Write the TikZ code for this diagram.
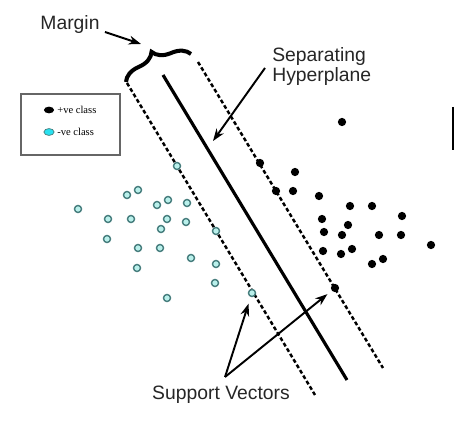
\documentclass[tikz,border=0pt]{standalone}
\usepackage{fontspec}
\setmainfont{Liberation Sans}
\newfontfamily\legendfont{Liberation Serif}
\usetikzlibrary{decorations.pathreplacing,arrows.meta,shapes.geometric}
\definecolor{negfill}{RGB}{185,240,235}
\definecolor{negdraw}{RGB}{70,125,125}
\definecolor{legcyan}{RGB}{40,225,240}
\tikzset{
  posdot/.style={circle,fill=black,inner sep=0pt,minimum size=4.7pt},
  negdot/.style={circle,fill=negfill,draw=negdraw,line width=0.8pt,inner sep=0pt,minimum size=4pt},
  margline/.style={line width=1.4pt,dash pattern=on 2.2pt off 1.4pt},
  hyper/.style={line width=1.8pt},
  lab/.style={font=\fontsize{11}{11.5}\selectfont,text=black!85,inner sep=0pt},
  pointer/.style={line width=1.1pt,-{Stealth[length=7pt,width=5pt]}},
  legtext/.style={font=\legendfont\fontsize{6}{7}\selectfont,anchor=west,inner sep=0pt}
}
\begin{document}
\begin{tikzpicture}[x=0.02cm,y=-0.02cm]
\useasboundingbox (0,0) rectangle (474,438);
% lines
\coordinate (l1a) at (127,83); \coordinate (l1b) at (315,395);
\coordinate (l2a) at (163,75); \coordinate (l2b) at (347,380);
\coordinate (l3a) at (198,62); \coordinate (l3b) at (383,368);
\draw[margline] (l1a) -- (l1b);
\draw[hyper] (l2a) -- (l2b);
\draw[margline] (l3a) -- (l3b);
% brace
\coordinate (ba) at (126,82); \coordinate (bb) at (191,54);
\draw[line width=2.3pt,decorate,decoration={brace,amplitude=10pt}] (ba) -- (bb);
% labels
\node[lab] (margin) at (70,25) {Margin};
\coordinate (mstart) at (105,32);
\coordinate (marginEnd) at (141,44);
\draw[pointer] (mstart) -- (marginEnd);
\node[lab,align=left,anchor=north west] (sep) at (272,47) {Separating\\Hyperplane};
\coordinate (sepStart) at (265,68);
\coordinate (sepEnd) at (213,141);
\draw[pointer] (sepStart) -- (sepEnd);
\node[lab] (sv) at (221,395) {Support Vectors};
\coordinate (svStart) at (225,377);
% vertical mark
\coordinate (va) at (453,107); \coordinate (vb) at (453,150);
\draw[line width=1.2pt] (va) -- (vb);
% legend
\draw[black!60,line width=0.6pt] (21,94) rectangle (120,155);
\node[ellipse,fill=black,inner sep=0pt,minimum width=5.8pt,minimum height=3.8pt] (legpos) at (49,110) {};
\node[ellipse,fill=legcyan,draw=negdraw,line width=0.4pt,inner sep=0pt,minimum width=5.8pt,minimum height=3.9pt] (legneg) at (49,132) {};
\node[legtext] (legposT) at (57,110) {+ve class};
\node[legtext] (legnegT) at (57,132) {-ve class};
% negative points
\foreach \x/\y [count=\i] in {177/166,138/190,127/195,78/209,168/200,157/205,187/203,108/219,131/219,167/219,186/222,161/229,216/231,107/239,138/248,160/248,191/258,216/264,137/268,215/283,167/298}
  \node[negdot] (n\i) at (\x,\y) {};
\node[negdot] (svneg) at (252,293) {};
% positive points
\foreach \x/\y [count=\i] in {342/122,260/163,295/172,276/191,293/191,319/196,350/206,372/206,402/216,322/219,348/225,324/232,342/235,379/235,401/235,431/245,323/251,352/249,341/254,383/259,372/264}
  \node[posdot] (p\i) at (\x,\y) {};
\node[posdot] (svpos) at (335,288) {};
% support vector arrows
\draw[pointer,shorten >=4pt] (svStart) -- (svneg);
\draw[pointer,shorten >=3pt] (svStart) -- (svpos);
\end{tikzpicture}
\end{document}
